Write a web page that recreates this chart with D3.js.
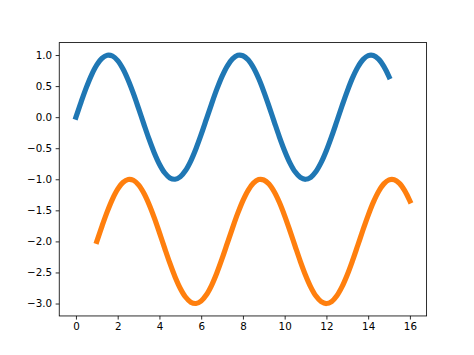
<!DOCTYPE html>
<html><head><meta charset="utf-8">
<script src="https://cdn.jsdelivr.net/npm/d3@7"></script>
<style>body{margin:0;background:#fff}svg{display:block}</style>
</head><body>
<script>
const xBlue = [0,0.25,0.5,0.75,1,1.25,1.5,1.75,2,2.25,2.5,2.75,3,3.25,3.5,3.75,4,4.25,4.5,4.75,5,5.25,5.5,5.75,6,6.25,6.5,6.75,7,7.25,7.5,7.75,8,8.25,8.5,8.75,9,9.25,9.5,9.75,10,10.25,10.5,10.75,11,11.25,11.5,11.75,12,12.25,12.5,12.75,13,13.25,13.5,13.75,14,14.25,14.5,14.75,15];
const yBlue = [0,0.247,0.479,0.682,0.841,0.949,0.997,0.984,0.909,0.778,0.598,0.382,0.141,-0.108,-0.351,-0.572,-0.757,-0.895,-0.978,-0.999,-0.959,-0.859,-0.706,-0.508,-0.279,-0.033,0.215,0.450,0.657,0.823,0.938,0.995,0.989,0.923,0.798,0.625,0.412,0.174,-0.075,-0.320,-0.544,-0.735,-0.880,-0.970,-1.000,-0.968,-0.875,-0.729,-0.537,-0.311,-0.066,0.183,0.420,0.632,0.804,0.926,0.991,0.994,0.935,0.818,0.650];
const xOrange = [1,1.25,1.5,1.75,2,2.25,2.5,2.75,3,3.25,3.5,3.75,4,4.25,4.5,4.75,5,5.25,5.5,5.75,6,6.25,6.5,6.75,7,7.25,7.5,7.75,8,8.25,8.5,8.75,9,9.25,9.5,9.75,10,10.25,10.5,10.75,11,11.25,11.5,11.75,12,12.25,12.5,12.75,13,13.25,13.5,13.75,14,14.25,14.5,14.75,15,15.25,15.5,15.75,16];
const yOrange = [-2,-1.753,-1.521,-1.318,-1.159,-1.051,-1.003,-1.016,-1.091,-1.222,-1.402,-1.618,-1.859,-2.108,-2.351,-2.572,-2.757,-2.895,-2.978,-2.999,-2.959,-2.859,-2.706,-2.508,-2.279,-2.033,-1.785,-1.550,-1.343,-1.177,-1.062,-1.005,-1.011,-1.077,-1.202,-1.375,-1.588,-1.826,-2.075,-2.320,-2.544,-2.735,-2.880,-2.970,-3.000,-2.968,-2.875,-2.729,-2.537,-2.311,-2.066,-1.817,-1.580,-1.368,-1.196,-1.074,-1.009,-1.006,-1.065,-1.182,-1.350];
const xTicks = [0,2,4,6,8,10,12,14,16];
const yTicks = [-3.0,-2.5,-2.0,-1.5,-1.0,-0.5,0.0,0.5,1.0];

const W = 474, H = 355;
const L = 59.25, R = 426.6, T = 42.6, B = 315.95;
const svg = d3.select("body").append("svg").attr("width", W).attr("height", H);
const x = d3.scaleLinear().domain([-0.8, 16.8]).range([L, R]);
const y = d3.scaleLinear().domain([-3.2, 1.2]).range([B, T]);

const fmt = v => d3.format(".1f")(v).replace("-", "\u2212");
const xa = svg.append("g").attr("transform", `translate(0,${B})`)
  .call(d3.axisBottom(x).tickValues(xTicks).tickSize(3.6).tickPadding(3.6).tickFormat(d3.format("d")));
const ya = svg.append("g").attr("transform", `translate(${L},0)`)
  .call(d3.axisLeft(y).tickValues(yTicks).tickSize(3.6).tickPadding(3.6).tickFormat(fmt));
[xa, ya].forEach(a => {
  a.select(".domain").remove();
  a.selectAll("line").attr("stroke", "#000").attr("stroke-width", 0.82);
  a.selectAll("text").attr("font-family", "DejaVu Sans").attr("font-size", 10.3).attr("fill", "#000");
});

const line = d3.line().x(d => x(d[0])).y(d => y(d[1])).curve(d3.curveCatmullRom.alpha(0.5));
svg.append("path").datum(d3.zip(xBlue, yBlue)).attr("d", line).attr("fill", "none")
  .attr("stroke", "#1f77b4").attr("stroke-width", 5.2).attr("stroke-linecap", "square").attr("stroke-linejoin", "round");
svg.append("path").datum(d3.zip(xOrange, yOrange)).attr("d", line).attr("fill", "none")
  .attr("stroke", "#ff7f0e").attr("stroke-width", 5.2).attr("stroke-linecap", "square").attr("stroke-linejoin", "round");

svg.append("rect").attr("x", L).attr("y", T).attr("width", R - L).attr("height", B - T)
  .attr("fill", "none").attr("stroke", "#000").attr("stroke-width", 0.82);
</script>
</body></html>
